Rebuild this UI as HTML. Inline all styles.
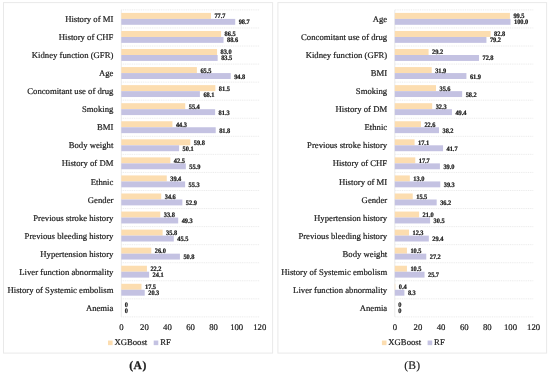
<!DOCTYPE html>
<html><head><meta charset="utf-8"><title>Feature importance</title>
<style>
html,body{margin:0;padding:0;background:#fff;}
svg{display:block;}
text{font-family:"Liberation Serif","Times New Roman",serif;fill:#1a1a1a;text-rendering:geometricPrecision;}
.c{font-size:8.7px;stroke:#1a1a1a;stroke-width:0.2px;}
.v{font-size:6.4px;font-weight:bold;stroke:#1a1a1a;stroke-width:0.22px;letter-spacing:-0.05px;}
.cap{font-size:11.6px;letter-spacing:0.1px;stroke:#1a1a1a;stroke-width:0.15px;}
.capb{font-weight:bold;letter-spacing:0.5px;stroke-width:0.25px;}
</style></head><body>
<svg width="550" height="375" viewBox="0 0 550 375">
<rect width="550" height="375" fill="#fff"/>
<rect x="3.5" y="2.6" width="269.10" height="350.5" fill="#fff" stroke="#e9e9e9" stroke-width="1"/>
<line x1="121.3" y1="9.90" x2="259.78" y2="9.90" stroke="#e8e8e8" stroke-width="0.9" stroke-dasharray="1 0.8"/>
<line x1="121.3" y1="27.96" x2="259.78" y2="27.96" stroke="#e8e8e8" stroke-width="0.9" stroke-dasharray="1 0.8"/>
<line x1="121.3" y1="46.02" x2="259.78" y2="46.02" stroke="#e8e8e8" stroke-width="0.9" stroke-dasharray="1 0.8"/>
<line x1="121.3" y1="64.08" x2="259.78" y2="64.08" stroke="#e8e8e8" stroke-width="0.9" stroke-dasharray="1 0.8"/>
<line x1="121.3" y1="82.14" x2="259.78" y2="82.14" stroke="#e8e8e8" stroke-width="0.9" stroke-dasharray="1 0.8"/>
<line x1="121.3" y1="100.19" x2="259.78" y2="100.19" stroke="#e8e8e8" stroke-width="0.9" stroke-dasharray="1 0.8"/>
<line x1="121.3" y1="118.25" x2="259.78" y2="118.25" stroke="#e8e8e8" stroke-width="0.9" stroke-dasharray="1 0.8"/>
<line x1="121.3" y1="136.31" x2="259.78" y2="136.31" stroke="#e8e8e8" stroke-width="0.9" stroke-dasharray="1 0.8"/>
<line x1="121.3" y1="154.37" x2="259.78" y2="154.37" stroke="#e8e8e8" stroke-width="0.9" stroke-dasharray="1 0.8"/>
<line x1="121.3" y1="172.43" x2="259.78" y2="172.43" stroke="#e8e8e8" stroke-width="0.9" stroke-dasharray="1 0.8"/>
<line x1="121.3" y1="190.49" x2="259.78" y2="190.49" stroke="#e8e8e8" stroke-width="0.9" stroke-dasharray="1 0.8"/>
<line x1="121.3" y1="208.55" x2="259.78" y2="208.55" stroke="#e8e8e8" stroke-width="0.9" stroke-dasharray="1 0.8"/>
<line x1="121.3" y1="226.61" x2="259.78" y2="226.61" stroke="#e8e8e8" stroke-width="0.9" stroke-dasharray="1 0.8"/>
<line x1="121.3" y1="244.66" x2="259.78" y2="244.66" stroke="#e8e8e8" stroke-width="0.9" stroke-dasharray="1 0.8"/>
<line x1="121.3" y1="262.72" x2="259.78" y2="262.72" stroke="#e8e8e8" stroke-width="0.9" stroke-dasharray="1 0.8"/>
<line x1="121.3" y1="280.78" x2="259.78" y2="280.78" stroke="#e8e8e8" stroke-width="0.9" stroke-dasharray="1 0.8"/>
<line x1="121.3" y1="298.84" x2="259.78" y2="298.84" stroke="#e8e8e8" stroke-width="0.9" stroke-dasharray="1 0.8"/>
<line x1="121.3" y1="316.90" x2="259.78" y2="316.90" stroke="#e8e8e8" stroke-width="0.9" stroke-dasharray="1 0.8"/>
<line x1="121.3" y1="9.9" x2="121.3" y2="316.9" stroke="#e8e8e8" stroke-width="0.9"/>
<rect x="121.3" y="12.90" width="89.67" height="6" fill="#fcddb0"/>
<rect x="121.3" y="18.90" width="113.90" height="5.9" fill="#c4c2e2"/>
<text class="c" x="113.4" y="21.98" text-anchor="end">History of MI</text>
<text class="v" transform="translate(214.47 18.35) scale(1 1.06)">77.7</text>
<text class="v" transform="translate(238.70 24.35) scale(1 1.06)">98.7</text>
<rect x="121.3" y="30.96" width="99.82" height="6" fill="#fcddb0"/>
<rect x="121.3" y="36.96" width="102.24" height="5.9" fill="#c4c2e2"/>
<text class="c" x="113.4" y="40.04" text-anchor="end">History of CHF</text>
<text class="v" transform="translate(224.62 36.41) scale(1 1.06)">86.5</text>
<text class="v" transform="translate(227.04 42.41) scale(1 1.06)">88.6</text>
<rect x="121.3" y="49.02" width="95.78" height="6" fill="#fcddb0"/>
<rect x="121.3" y="55.02" width="96.36" height="5.9" fill="#c4c2e2"/>
<text class="c" x="113.4" y="58.10" text-anchor="end">Kidney function (GFR)</text>
<text class="v" transform="translate(220.58 54.47) scale(1 1.06)">83.0</text>
<text class="v" transform="translate(221.16 60.47) scale(1 1.06)">83.5</text>
<rect x="121.3" y="67.08" width="75.59" height="6" fill="#fcddb0"/>
<rect x="121.3" y="73.08" width="109.40" height="5.9" fill="#c4c2e2"/>
<text class="c" x="113.4" y="76.16" text-anchor="end">Age</text>
<text class="v" transform="translate(200.39 72.53) scale(1 1.06)">65.5</text>
<text class="v" transform="translate(234.20 78.53) scale(1 1.06)">94.8</text>
<rect x="121.3" y="85.14" width="94.05" height="6" fill="#fcddb0"/>
<rect x="121.3" y="91.14" width="78.59" height="5.9" fill="#c4c2e2"/>
<text class="c" x="113.4" y="94.21" text-anchor="end">Concomitant use of drug</text>
<text class="v" transform="translate(218.85 90.59) scale(1 1.06)">81.5</text>
<text class="v" transform="translate(203.39 96.59) scale(1 1.06)">68.1</text>
<rect x="121.3" y="103.19" width="63.93" height="6" fill="#fcddb0"/>
<rect x="121.3" y="109.19" width="93.82" height="5.9" fill="#c4c2e2"/>
<text class="c" x="113.4" y="112.27" text-anchor="end">Smoking</text>
<text class="v" transform="translate(188.73 108.64) scale(1 1.06)">55.4</text>
<text class="v" transform="translate(218.62 114.64) scale(1 1.06)">81.3</text>
<rect x="121.3" y="121.25" width="51.12" height="6" fill="#fcddb0"/>
<rect x="121.3" y="127.25" width="94.40" height="5.9" fill="#c4c2e2"/>
<text class="c" x="113.4" y="130.33" text-anchor="end">BMI</text>
<text class="v" transform="translate(175.92 126.70) scale(1 1.06)">44.3</text>
<text class="v" transform="translate(219.20 132.70) scale(1 1.06)">81.8</text>
<rect x="121.3" y="139.31" width="69.01" height="6" fill="#fcddb0"/>
<rect x="121.3" y="145.31" width="57.82" height="5.9" fill="#c4c2e2"/>
<text class="c" x="113.4" y="148.39" text-anchor="end">Body weight</text>
<text class="v" transform="translate(193.81 144.76) scale(1 1.06)">59.8</text>
<text class="v" transform="translate(182.62 150.76) scale(1 1.06)">50.1</text>
<rect x="121.3" y="157.37" width="49.04" height="6" fill="#fcddb0"/>
<rect x="121.3" y="163.37" width="64.51" height="5.9" fill="#c4c2e2"/>
<text class="c" x="113.4" y="166.45" text-anchor="end">History of DM</text>
<text class="v" transform="translate(173.84 162.82) scale(1 1.06)">42.5</text>
<text class="v" transform="translate(189.31 168.82) scale(1 1.06)">55.9</text>
<rect x="121.3" y="175.43" width="45.47" height="6" fill="#fcddb0"/>
<rect x="121.3" y="181.43" width="63.82" height="5.9" fill="#c4c2e2"/>
<text class="c" x="113.4" y="184.51" text-anchor="end">Ethnic</text>
<text class="v" transform="translate(170.27 180.88) scale(1 1.06)">39.4</text>
<text class="v" transform="translate(188.62 186.88) scale(1 1.06)">55.3</text>
<rect x="121.3" y="193.49" width="39.93" height="6" fill="#fcddb0"/>
<rect x="121.3" y="199.49" width="61.05" height="5.9" fill="#c4c2e2"/>
<text class="c" x="113.4" y="202.57" text-anchor="end">Gender</text>
<text class="v" transform="translate(164.73 198.94) scale(1 1.06)">34.6</text>
<text class="v" transform="translate(185.85 204.94) scale(1 1.06)">52.9</text>
<rect x="121.3" y="211.55" width="39.01" height="6" fill="#fcddb0"/>
<rect x="121.3" y="217.55" width="56.89" height="5.9" fill="#c4c2e2"/>
<text class="c" x="113.4" y="220.63" text-anchor="end">Previous stroke history</text>
<text class="v" transform="translate(163.81 217.00) scale(1 1.06)">33.8</text>
<text class="v" transform="translate(181.69 223.00) scale(1 1.06)">49.3</text>
<rect x="121.3" y="229.61" width="41.31" height="6" fill="#fcddb0"/>
<rect x="121.3" y="235.61" width="52.51" height="5.9" fill="#c4c2e2"/>
<text class="c" x="113.4" y="238.69" text-anchor="end">Previous bleeding history</text>
<text class="v" transform="translate(166.11 235.06) scale(1 1.06)">35.8</text>
<text class="v" transform="translate(177.31 241.06) scale(1 1.06)">45.5</text>
<rect x="121.3" y="247.66" width="30.00" height="6" fill="#fcddb0"/>
<rect x="121.3" y="253.66" width="58.62" height="5.9" fill="#c4c2e2"/>
<text class="c" x="113.4" y="256.74" text-anchor="end">Hypertension history</text>
<text class="v" transform="translate(154.80 253.11) scale(1 1.06)">26.0</text>
<text class="v" transform="translate(183.42 259.11) scale(1 1.06)">50.8</text>
<rect x="121.3" y="265.72" width="25.62" height="6" fill="#fcddb0"/>
<rect x="121.3" y="271.72" width="27.81" height="5.9" fill="#c4c2e2"/>
<text class="c" x="113.4" y="274.80" text-anchor="end">Liver function abnormality</text>
<text class="v" transform="translate(150.42 271.17) scale(1 1.06)">22.2</text>
<text class="v" transform="translate(152.61 277.17) scale(1 1.06)">24.1</text>
<rect x="121.3" y="283.78" width="20.20" height="6" fill="#fcddb0"/>
<rect x="121.3" y="289.78" width="23.43" height="5.9" fill="#c4c2e2"/>
<text class="c" x="113.4" y="292.86" text-anchor="end">History of Systemic embolism</text>
<text class="v" transform="translate(145.00 289.23) scale(1 1.06)">17.5</text>
<text class="v" transform="translate(148.23 295.23) scale(1 1.06)">20.3</text>
<text class="c" x="113.4" y="310.92" text-anchor="end">Anemia</text>
<text class="v" transform="translate(124.80 307.29) scale(1 1.06)">0</text>
<text class="v" transform="translate(124.80 313.29) scale(1 1.06)">0</text>
<text class="c" x="121.30" y="330.2" text-anchor="middle">0</text>
<text class="c" x="144.38" y="330.2" text-anchor="middle">20</text>
<text class="c" x="167.46" y="330.2" text-anchor="middle">40</text>
<text class="c" x="190.54" y="330.2" text-anchor="middle">60</text>
<text class="c" x="213.62" y="330.2" text-anchor="middle">80</text>
<text class="c" x="236.70" y="330.2" text-anchor="middle">100</text>
<text class="c" x="259.78" y="330.2" text-anchor="middle">120</text>
<rect x="108.0" y="340.55" width="4.6" height="4.6" fill="#fcddb0"/>
<text class="c" x="114.40" y="345.4">XGBoost</text>
<rect x="153.70" y="340.55" width="4.6" height="4.6" fill="#c4c2e2"/>
<text class="c" x="160.20" y="345.4">RF</text>
<text class="cap capb" x="138.05" y="369.1" text-anchor="middle">(A)</text>
<rect x="277.9" y="2.6" width="268.70" height="350.5" fill="#fff" stroke="#e9e9e9" stroke-width="1"/>
<line x1="394.8" y1="9.90" x2="533.64" y2="9.90" stroke="#e8e8e8" stroke-width="0.9" stroke-dasharray="1 0.8"/>
<line x1="394.8" y1="27.96" x2="533.64" y2="27.96" stroke="#e8e8e8" stroke-width="0.9" stroke-dasharray="1 0.8"/>
<line x1="394.8" y1="46.02" x2="533.64" y2="46.02" stroke="#e8e8e8" stroke-width="0.9" stroke-dasharray="1 0.8"/>
<line x1="394.8" y1="64.08" x2="533.64" y2="64.08" stroke="#e8e8e8" stroke-width="0.9" stroke-dasharray="1 0.8"/>
<line x1="394.8" y1="82.14" x2="533.64" y2="82.14" stroke="#e8e8e8" stroke-width="0.9" stroke-dasharray="1 0.8"/>
<line x1="394.8" y1="100.19" x2="533.64" y2="100.19" stroke="#e8e8e8" stroke-width="0.9" stroke-dasharray="1 0.8"/>
<line x1="394.8" y1="118.25" x2="533.64" y2="118.25" stroke="#e8e8e8" stroke-width="0.9" stroke-dasharray="1 0.8"/>
<line x1="394.8" y1="136.31" x2="533.64" y2="136.31" stroke="#e8e8e8" stroke-width="0.9" stroke-dasharray="1 0.8"/>
<line x1="394.8" y1="154.37" x2="533.64" y2="154.37" stroke="#e8e8e8" stroke-width="0.9" stroke-dasharray="1 0.8"/>
<line x1="394.8" y1="172.43" x2="533.64" y2="172.43" stroke="#e8e8e8" stroke-width="0.9" stroke-dasharray="1 0.8"/>
<line x1="394.8" y1="190.49" x2="533.64" y2="190.49" stroke="#e8e8e8" stroke-width="0.9" stroke-dasharray="1 0.8"/>
<line x1="394.8" y1="208.55" x2="533.64" y2="208.55" stroke="#e8e8e8" stroke-width="0.9" stroke-dasharray="1 0.8"/>
<line x1="394.8" y1="226.61" x2="533.64" y2="226.61" stroke="#e8e8e8" stroke-width="0.9" stroke-dasharray="1 0.8"/>
<line x1="394.8" y1="244.66" x2="533.64" y2="244.66" stroke="#e8e8e8" stroke-width="0.9" stroke-dasharray="1 0.8"/>
<line x1="394.8" y1="262.72" x2="533.64" y2="262.72" stroke="#e8e8e8" stroke-width="0.9" stroke-dasharray="1 0.8"/>
<line x1="394.8" y1="280.78" x2="533.64" y2="280.78" stroke="#e8e8e8" stroke-width="0.9" stroke-dasharray="1 0.8"/>
<line x1="394.8" y1="298.84" x2="533.64" y2="298.84" stroke="#e8e8e8" stroke-width="0.9" stroke-dasharray="1 0.8"/>
<line x1="394.8" y1="316.90" x2="533.64" y2="316.90" stroke="#e8e8e8" stroke-width="0.9" stroke-dasharray="1 0.8"/>
<line x1="394.8" y1="9.9" x2="394.8" y2="316.9" stroke="#e8e8e8" stroke-width="0.9"/>
<rect x="394.8" y="12.90" width="115.12" height="6" fill="#fcddb0"/>
<rect x="394.8" y="18.90" width="115.70" height="5.9" fill="#c4c2e2"/>
<text class="c" x="387.2" y="21.98" text-anchor="end">Age</text>
<text class="v" transform="translate(513.42 18.35) scale(1 1.06)">99.5</text>
<text class="v" transform="translate(514.00 24.35) scale(1 1.06)">100.0</text>
<rect x="394.8" y="30.96" width="95.80" height="6" fill="#fcddb0"/>
<rect x="394.8" y="36.96" width="91.63" height="5.9" fill="#c4c2e2"/>
<text class="c" x="387.2" y="40.04" text-anchor="end">Concomitant use of drug</text>
<text class="v" transform="translate(494.10 36.41) scale(1 1.06)">82.8</text>
<text class="v" transform="translate(489.93 42.41) scale(1 1.06)">79.2</text>
<rect x="394.8" y="49.02" width="33.78" height="6" fill="#fcddb0"/>
<rect x="394.8" y="55.02" width="84.23" height="5.9" fill="#c4c2e2"/>
<text class="c" x="387.2" y="58.10" text-anchor="end">Kidney function (GFR)</text>
<text class="v" transform="translate(432.08 54.47) scale(1 1.06)">29.2</text>
<text class="v" transform="translate(482.53 60.47) scale(1 1.06)">72.8</text>
<rect x="394.8" y="67.08" width="36.91" height="6" fill="#fcddb0"/>
<rect x="394.8" y="73.08" width="71.62" height="5.9" fill="#c4c2e2"/>
<text class="c" x="387.2" y="76.16" text-anchor="end">BMI</text>
<text class="v" transform="translate(435.21 72.53) scale(1 1.06)">31.9</text>
<text class="v" transform="translate(469.92 78.53) scale(1 1.06)">61.9</text>
<rect x="394.8" y="85.14" width="41.19" height="6" fill="#fcddb0"/>
<rect x="394.8" y="91.14" width="67.34" height="5.9" fill="#c4c2e2"/>
<text class="c" x="387.2" y="94.21" text-anchor="end">Smoking</text>
<text class="v" transform="translate(439.49 90.59) scale(1 1.06)">35.6</text>
<text class="v" transform="translate(465.64 96.59) scale(1 1.06)">58.2</text>
<rect x="394.8" y="103.19" width="37.37" height="6" fill="#fcddb0"/>
<rect x="394.8" y="109.19" width="57.16" height="5.9" fill="#c4c2e2"/>
<text class="c" x="387.2" y="112.27" text-anchor="end">History of DM</text>
<text class="v" transform="translate(435.67 108.64) scale(1 1.06)">32.3</text>
<text class="v" transform="translate(455.46 114.64) scale(1 1.06)">49.4</text>
<rect x="394.8" y="121.25" width="26.15" height="6" fill="#fcddb0"/>
<rect x="394.8" y="127.25" width="44.20" height="5.9" fill="#c4c2e2"/>
<text class="c" x="387.2" y="130.33" text-anchor="end">Ethnic</text>
<text class="v" transform="translate(424.45 126.70) scale(1 1.06)">22.6</text>
<text class="v" transform="translate(442.50 132.70) scale(1 1.06)">38.2</text>
<rect x="394.8" y="139.31" width="19.78" height="6" fill="#fcddb0"/>
<rect x="394.8" y="145.31" width="48.25" height="5.9" fill="#c4c2e2"/>
<text class="c" x="387.2" y="148.39" text-anchor="end">Previous stroke history</text>
<text class="v" transform="translate(418.08 144.76) scale(1 1.06)">17.1</text>
<text class="v" transform="translate(446.55 150.76) scale(1 1.06)">41.7</text>
<rect x="394.8" y="157.37" width="20.48" height="6" fill="#fcddb0"/>
<rect x="394.8" y="163.37" width="45.12" height="5.9" fill="#c4c2e2"/>
<text class="c" x="387.2" y="166.45" text-anchor="end">History of CHF</text>
<text class="v" transform="translate(418.78 162.82) scale(1 1.06)">17.7</text>
<text class="v" transform="translate(443.42 168.82) scale(1 1.06)">39.0</text>
<rect x="394.8" y="175.43" width="15.04" height="6" fill="#fcddb0"/>
<rect x="394.8" y="181.43" width="45.47" height="5.9" fill="#c4c2e2"/>
<text class="c" x="387.2" y="184.51" text-anchor="end">History of MI</text>
<text class="v" transform="translate(413.34 180.88) scale(1 1.06)">13.0</text>
<text class="v" transform="translate(443.77 186.88) scale(1 1.06)">39.3</text>
<rect x="394.8" y="193.49" width="17.93" height="6" fill="#fcddb0"/>
<rect x="394.8" y="199.49" width="41.88" height="5.9" fill="#c4c2e2"/>
<text class="c" x="387.2" y="202.57" text-anchor="end">Gender</text>
<text class="v" transform="translate(416.23 198.94) scale(1 1.06)">15.5</text>
<text class="v" transform="translate(440.18 204.94) scale(1 1.06)">36.2</text>
<rect x="394.8" y="211.55" width="24.30" height="6" fill="#fcddb0"/>
<rect x="394.8" y="217.55" width="35.29" height="5.9" fill="#c4c2e2"/>
<text class="c" x="387.2" y="220.63" text-anchor="end">Hypertension history</text>
<text class="v" transform="translate(422.60 217.00) scale(1 1.06)">21.0</text>
<text class="v" transform="translate(433.59 223.00) scale(1 1.06)">30.5</text>
<rect x="394.8" y="229.61" width="14.23" height="6" fill="#fcddb0"/>
<rect x="394.8" y="235.61" width="34.02" height="5.9" fill="#c4c2e2"/>
<text class="c" x="387.2" y="238.69" text-anchor="end">Previous bleeding history</text>
<text class="v" transform="translate(412.53 235.06) scale(1 1.06)">12.3</text>
<text class="v" transform="translate(432.32 241.06) scale(1 1.06)">29.4</text>
<rect x="394.8" y="247.66" width="12.15" height="6" fill="#fcddb0"/>
<rect x="394.8" y="253.66" width="31.47" height="5.9" fill="#c4c2e2"/>
<text class="c" x="387.2" y="256.74" text-anchor="end">Body weight</text>
<text class="v" transform="translate(410.45 253.11) scale(1 1.06)">10.5</text>
<text class="v" transform="translate(429.77 259.11) scale(1 1.06)">27.2</text>
<rect x="394.8" y="265.72" width="12.15" height="6" fill="#fcddb0"/>
<rect x="394.8" y="271.72" width="29.73" height="5.9" fill="#c4c2e2"/>
<text class="c" x="387.2" y="274.80" text-anchor="end">History of Systemic embolism</text>
<text class="v" transform="translate(410.45 271.17) scale(1 1.06)">10.5</text>
<text class="v" transform="translate(428.03 277.17) scale(1 1.06)">25.7</text>
<rect x="394.8" y="283.78" width="0.46" height="6" fill="#fcddb0"/>
<rect x="394.8" y="289.78" width="9.60" height="5.9" fill="#c4c2e2"/>
<text class="c" x="387.2" y="292.86" text-anchor="end">Liver function abnormality</text>
<text class="v" transform="translate(398.76 289.23) scale(1 1.06)">0.4</text>
<text class="v" transform="translate(407.90 295.23) scale(1 1.06)">8.3</text>
<text class="c" x="387.2" y="310.92" text-anchor="end">Anemia</text>
<text class="v" transform="translate(398.30 307.29) scale(1 1.06)">0</text>
<text class="v" transform="translate(398.30 313.29) scale(1 1.06)">0</text>
<text class="c" x="394.80" y="330.2" text-anchor="middle">0</text>
<text class="c" x="417.94" y="330.2" text-anchor="middle">20</text>
<text class="c" x="441.08" y="330.2" text-anchor="middle">40</text>
<text class="c" x="464.22" y="330.2" text-anchor="middle">60</text>
<text class="c" x="487.36" y="330.2" text-anchor="middle">80</text>
<text class="c" x="510.50" y="330.2" text-anchor="middle">100</text>
<text class="c" x="533.64" y="330.2" text-anchor="middle">120</text>
<rect x="381.9" y="340.55" width="4.6" height="4.6" fill="#fcddb0"/>
<text class="c" x="388.30" y="345.4">XGBoost</text>
<rect x="427.60" y="340.55" width="4.6" height="4.6" fill="#c4c2e2"/>
<text class="c" x="434.10" y="345.4">RF</text>
<text class="cap" x="412.25" y="369.1" text-anchor="middle">(B)</text>
</svg>
</body></html>
